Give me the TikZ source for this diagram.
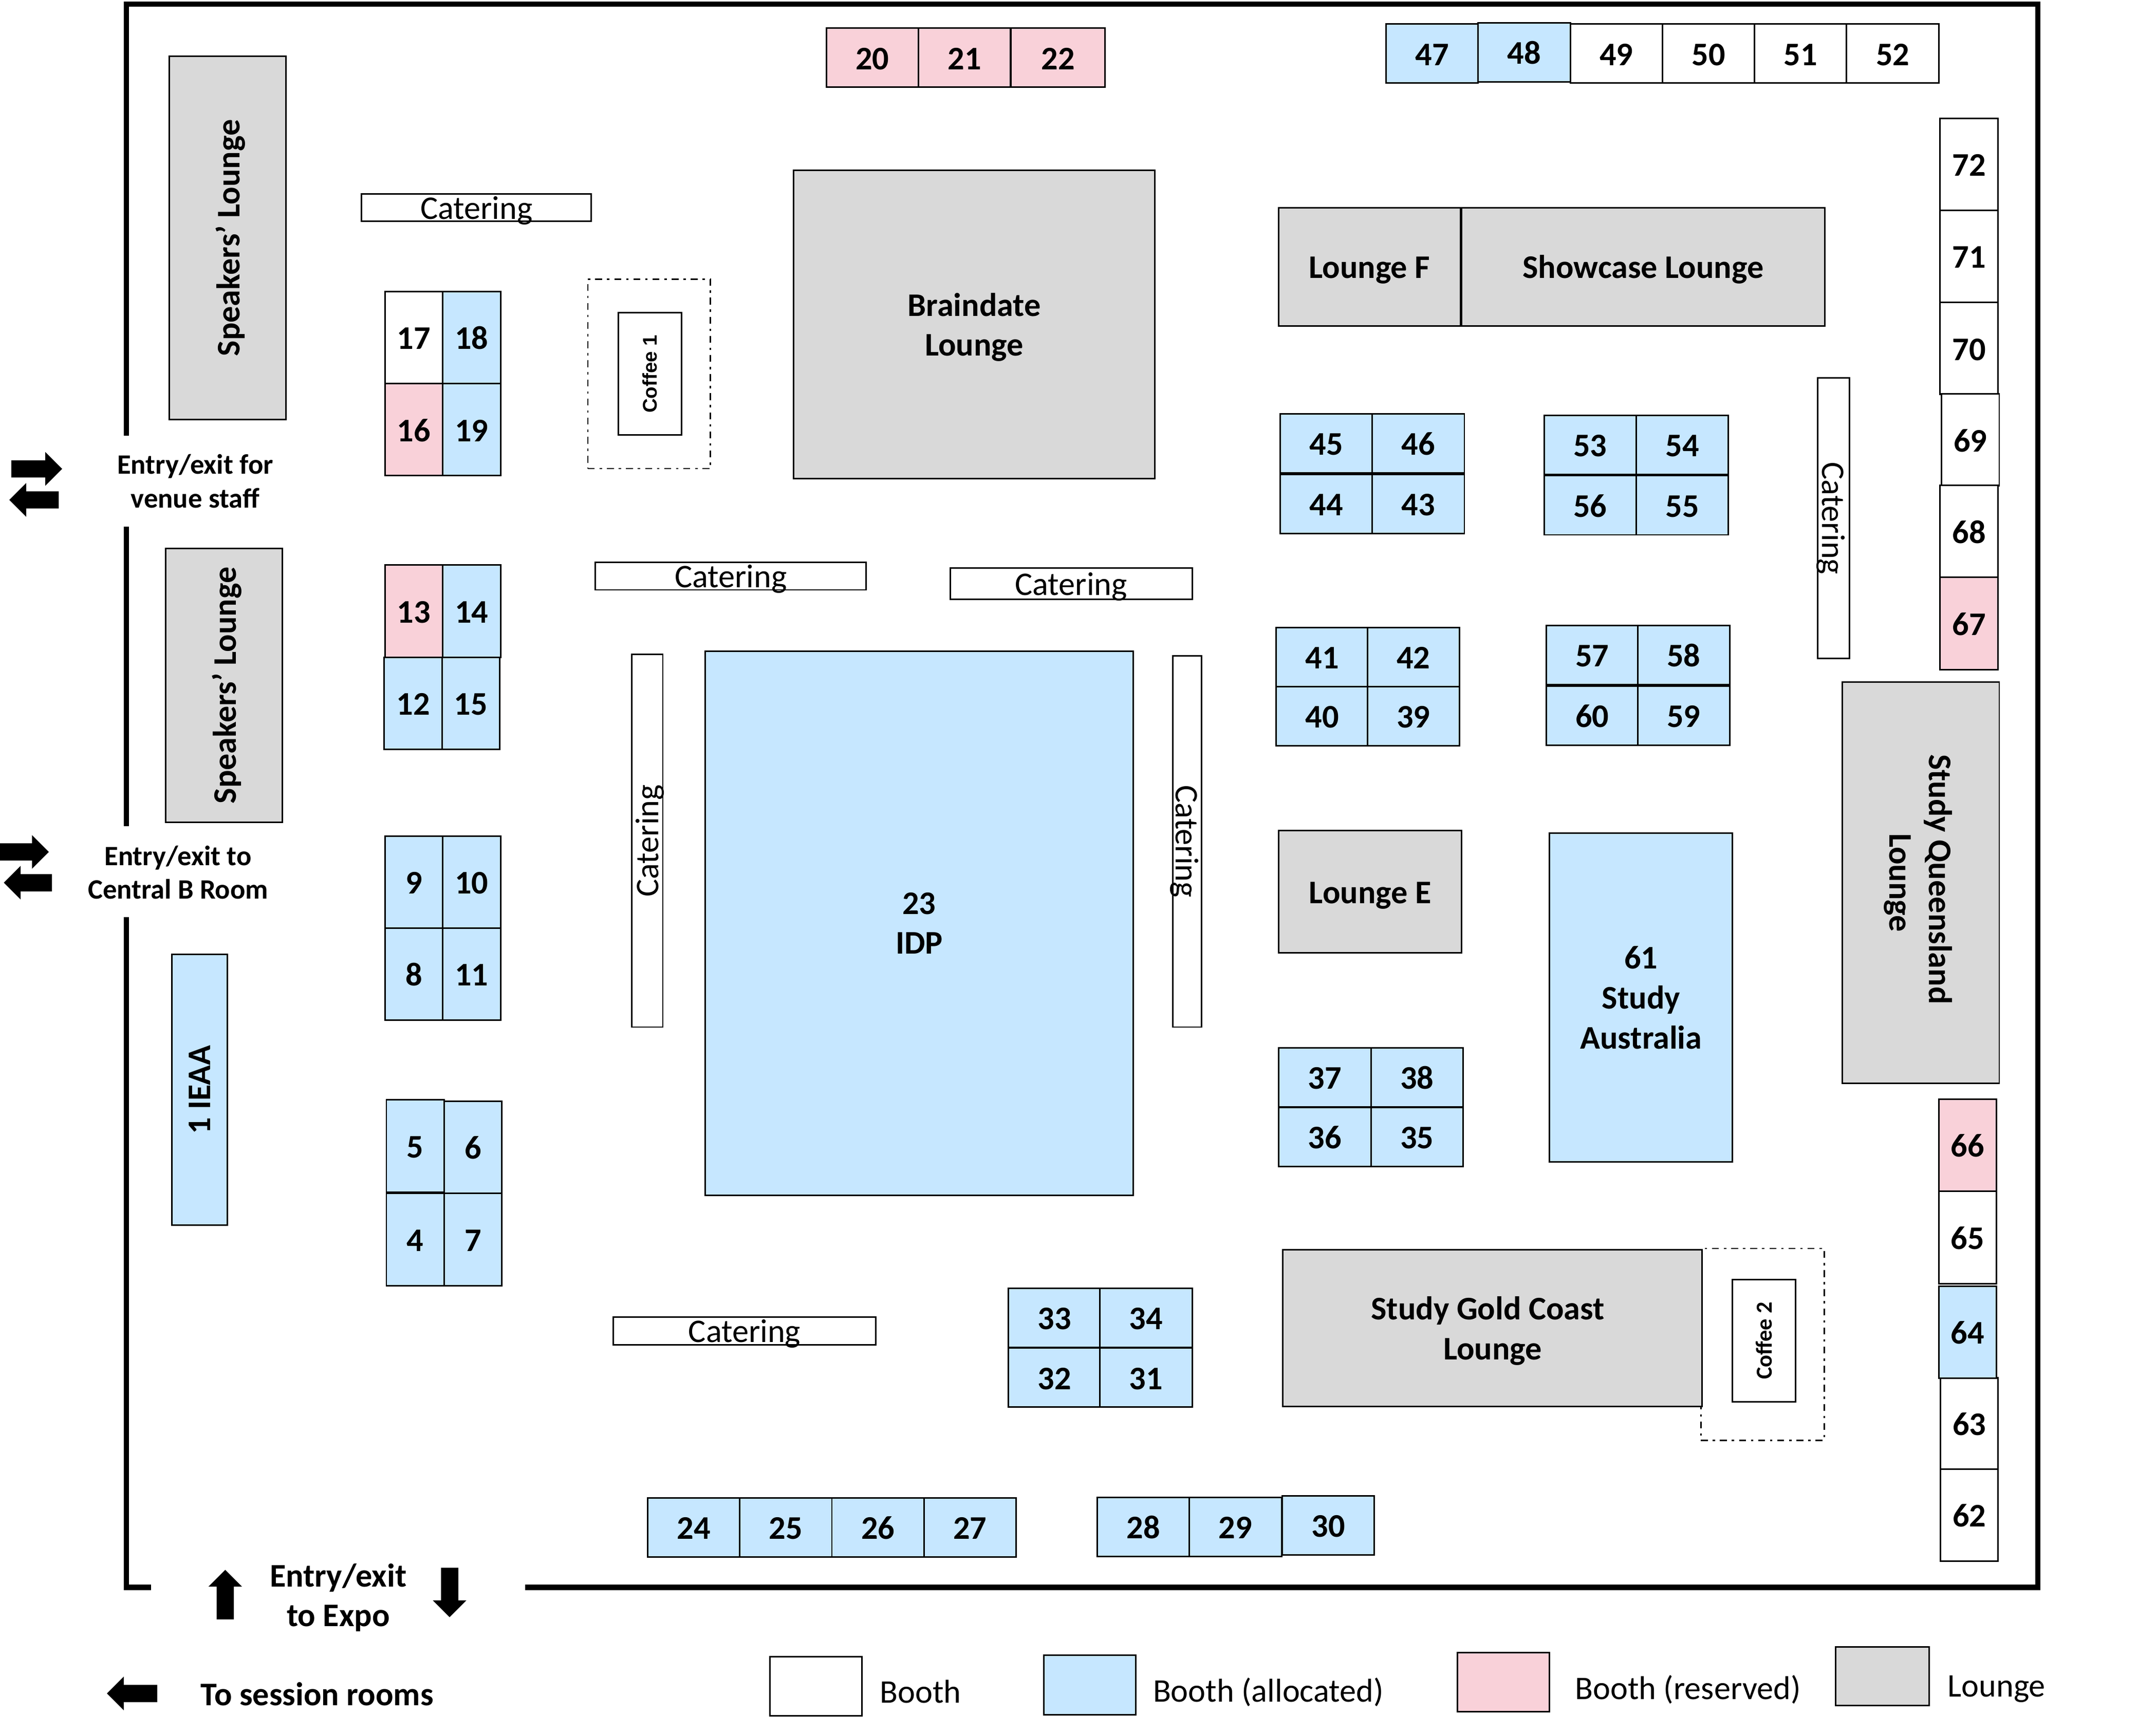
\documentclass[tikz,border=0pt]{standalone}
\usepackage{fontspec}
\setmainfont{Carlito}
\newfontfamily\coffeefont{Liberation Sans}
\usetikzlibrary{shapes.arrows}
\definecolor{boothblue}{HTML}{C6E7FF}
\definecolor{boothpink}{HTML}{F9D1D9}
\definecolor{loungegrey}{HTML}{D9D9D9}
\begin{document}
\begin{tikzpicture}[x=1pt, y=-1pt, line width=1.1pt,
    wall/.style={line width=3.9pt},
    boxed/.style={draw, fill=white, inner sep=0pt, align=center, text depth=0pt,
        font=\fontsize{24}{29}\selectfont\bfseries},
    oneline/.style={text height=17pt},
    hbooth/.style={boxed, oneline, minimum width=67pt, minimum height=43pt},
    vbooth/.style={boxed, oneline, minimum width=42pt, minimum height=67pt},
    taken/.style={fill=boothblue},
    held/.style={fill=boothpink},
    lounge/.style={boxed, fill=loungegrey},
    cater/.style={draw, fill=white, inner sep=0pt, text depth=0pt,
        font=\fontsize{24}{29}\selectfont},
    coffeezone/.style={draw, inner sep=0pt, dash pattern=on 5pt off 3.6pt on 1.7pt off 3.6pt},
    coffeebox/.style={draw, fill=white, inner sep=0pt, rotate=90, minimum width=89pt, minimum height=46pt},
    bigarrow/.style={single arrow, fill=black, inner sep=5.7pt, anchor=tip, minimum width=23.4pt,
        single arrow head extend=6pt, single arrow tip angle=90, single arrow head indent=0pt},
    sign/.style={inner sep=0pt, align=center, font=\fontsize{20.4}{24.5}\selectfont\bfseries},
    bigsign/.style={inner sep=0pt, align=center, font=\fontsize{24}{29}\selectfont\bfseries},
    keytext/.style={inner sep=0pt, anchor=west, text height=16pt, text depth=5pt,
        font=\fontsize{24}{29}\selectfont}]
    \useasboundingbox (0,0) rectangle (1568,1260.4);
    % walls
    \draw[wall] (92,316.7) -- (92,3) -- (1482,3) -- (1482,1154.5) -- (382,1154.5);
    \draw[wall] (92,383) -- (92,601);
    \draw[wall] (92,667) -- (92,1154.5) -- (110,1154.5);
    % doors
    \node[bigarrow, minimum height=37pt] (staffin) at (46,341) {};
    \node[bigarrow, minimum height=36pt, rotate=180] (staffout) at (6,363.6) {};
    \node[sign] (stafftext) at (142,350) {Entry/exit for\\venue staff};
    \node[bigarrow, minimum height=36pt] (roomin) at (36.3,619.6) {};
    \node[bigarrow, minimum height=35pt, rotate=180] (roomout) at (2,642) {};
    \node[sign] (roomtext) at (129.5,634.5) {Entry/exit to\\Central B Room};
    \node[bigarrow, minimum height=36pt, rotate=90] (expoin) at (163.8,1141) {};
    \node[bigarrow, minimum height=36pt, rotate=-90] (expoout) at (327,1177) {};
    \node[bigsign] (expotext) at (246,1162) {Entry/exit\\to Expo};
    \node[bigarrow, minimum height=36.5pt, rotate=180] (sessionarrow) at (77,1231.7) {};
    \node[bigsign, anchor=west] (sessiontext) at (145.5,1232) {To session rooms};
    % lounges
    \node[lounge, rotate=90, minimum width=264pt, minimum height=85pt] (speakers1) at (165.5,173) {Speakers’ Lounge};
    \node[lounge, rotate=90, minimum width=199pt, minimum height=85pt] (speakers2) at (163,498.5) {Speakers’ Lounge};
    \node[lounge, minimum width=263pt, minimum height=224pt] (braindate) at (708.5,236) {Braindate\\Lounge};
    \node[lounge, oneline, minimum width=132pt, minimum height=86pt] (loungef) at (996,194) {Lounge F};
    \node[lounge, oneline, minimum width=264pt, minimum height=86pt] (showcase) at (1195,194) {Showcase Lounge};
    \node[lounge, oneline, minimum width=133pt, minimum height=89pt] (loungee) at (996.5,648.5) {Lounge E};
    \node[lounge, rotate=-90, minimum width=292pt, minimum height=114pt] (queensland) at (1397,642) {Study Queensland\rule{5pt}{0pt}\\Lounge};
    \node[coffeezone, minimum width=89.6pt, minimum height=139.7pt] (zone2) at (1281.8,977.9) {};
    \node[lounge, minimum width=305pt, minimum height=114pt] (goldcoast) at (1085.5,966) {Study Gold Coast\rule{7pt}{0pt}\\Lounge};
    % coffee
    \node[coffeezone, minimum width=89.2pt, minimum height=137.8pt] (zone1) at (472.1,271.9) {};
    \node[coffeebox, font=\coffeefont\fontsize{14.4}{17}\selectfont\bfseries] (coffee1) at (472.7,272) {Coffee 1};
    \node[coffeebox, font=\fontsize{16.6}{20}\selectfont\bfseries] (coffee2) at (1283,975.2) {Coffee 2};
    % catering
    \node[cater, minimum width=167pt, minimum height=20pt] (cater1) at (346.5,151) {Catering};
    \node[cater, minimum width=197pt, minimum height=20pt] (cater2) at (531.5,419) {Catering};
    \node[cater, minimum width=176pt, minimum height=23pt] (cater3) at (779,424.5) {Catering};
    \node[cater, minimum width=191pt, minimum height=20pt] (cater4) at (541.5,968) {Catering};
    \node[cater, rotate=90, minimum width=271pt, minimum height=22.5pt] (cater5) at (470.8,611.5) {Catering};
    \node[cater, rotate=-90, minimum width=270pt, minimum height=21pt] (cater6) at (863.5,612) {Catering};
    \node[cater, rotate=-90, minimum width=204pt, minimum height=23pt] (cater7) at (1333.5,377) {Catering};
    % big booths
    \node[boxed, taken, rotate=90, minimum width=197pt, minimum height=40.5pt] (b1) at (145.2,792.5) {1 IEAA};
    \node[boxed, taken, minimum width=311pt, minimum height=395.5pt] (b23) at (668.5,671.5) {23\\IDP};
    \node[boxed, taken, minimum width=133pt, minimum height=239pt] (b61) at (1193.5,725.5) {61\\Study\\Australia};
    % top row
    \node[hbooth, held] (b20) at (634.5,42) {20};
    \node[hbooth, held] (b21) at (701.5,42) {21};
    \node[hbooth, held, minimum width=68.5pt] (b22) at (769.5,42) {22};
    \node[hbooth, taken] (b47) at (1041.5,39) {47};
    \node[hbooth, taken] (b48) at (1108.5,38) {48};
    \node[hbooth] (b49) at (1175.5,39) {49};
    \node[hbooth] (b50) at (1242.5,39) {50};
    \node[hbooth] (b51) at (1309.5,39) {51};
    \node[hbooth] (b52) at (1376.5,39) {52};
    % right column
    \node[vbooth] (b72) at (1432,119.5) {72};
    \node[vbooth] (b71) at (1432,186.5) {71};
    \node[vbooth] (b70) at (1432,253.5) {70};
    \node[vbooth] (b69) at (1433,320) {69};
    \node[vbooth] (b68) at (1432,386.5) {68};
    \node[vbooth, held] (b67) at (1432,453.5) {67};
    \node[vbooth, held] (b66) at (1431,833) {66};
    \node[vbooth] (b65) at (1431,900) {65};
    \node[vbooth] (b63) at (1432.2,1035.5) {63};
    \node[vbooth] (b62) at (1432.2,1102) {62};
    \node[vbooth, taken] (b64) at (1431,969) {64};
    % left blocks
    \node[vbooth] (b17) at (301,245.5) {17};
    \node[vbooth, taken] (b18) at (343,245.5) {18};
    \node[vbooth, held] (b16) at (301,312.5) {16};
    \node[vbooth, taken] (b19) at (343,312.5) {19};
    \node[vbooth, held] (b13) at (301,444.5) {13};
    \node[vbooth, taken] (b14) at (343,444.5) {14};
    \node[vbooth, taken] (b12) at (300.5,511.5) {12};
    \node[vbooth, taken] (b15) at (342.5,511.5) {15};
    \node[vbooth, taken] (b9) at (301,641.5) {9};
    \node[vbooth, taken] (b10) at (343,641.5) {10};
    \node[vbooth, taken] (b8) at (301,708.5) {8};
    \node[vbooth, taken] (b11) at (343,708.5) {11};
    \node[vbooth, taken] (b5) at (302,833.5) {5};
    \node[vbooth, taken] (b6) at (344,834.5) {6};
    \node[vbooth, taken] (b4) at (302,901.5) {4};
    \node[vbooth, taken] (b7) at (344,901.5) {7};
    % middle blocks
    \node[hbooth, taken] (b45) at (964.5,322.5) {45};
    \node[hbooth, taken] (b46) at (1031.5,322.5) {46};
    \node[hbooth, taken] (b44) at (964.5,366.5) {44};
    \node[hbooth, taken] (b43) at (1031.5,366.5) {43};
    \node[hbooth, taken] (b53) at (1156.5,323.5) {53};
    \node[hbooth, taken] (b54) at (1223.5,323.5) {54};
    \node[hbooth, taken] (b56) at (1156.5,367.5) {56};
    \node[hbooth, taken] (b55) at (1223.5,367.5) {55};
    \node[hbooth, taken] (b41) at (961.5,478) {41};
    \node[hbooth, taken] (b42) at (1028,478) {42};
    \node[hbooth, taken] (b40) at (961.5,521) {40};
    \node[hbooth, taken] (b39) at (1028,521) {39};
    \node[hbooth, taken] (b57) at (1158,476.5) {57};
    \node[hbooth, taken] (b58) at (1224.5,476.5) {58};
    \node[hbooth, taken] (b60) at (1158,520.5) {60};
    \node[hbooth, taken] (b59) at (1224.5,520.5) {59};
    \node[hbooth, taken] (b37) at (963.5,783.5) {37};
    \node[hbooth, taken] (b38) at (1030.5,783.5) {38};
    \node[hbooth, taken] (b36) at (963.5,827) {36};
    \node[hbooth, taken] (b35) at (1030.5,827) {35};
    \node[hbooth, taken] (b33) at (767,958.5) {33};
    \node[hbooth, taken] (b34) at (833.5,958.5) {34};
    \node[hbooth, taken] (b32) at (767,1002) {32};
    \node[hbooth, taken] (b31) at (833.5,1002) {31};
    % bottom row
    \node[hbooth, taken] (b24) at (504.5,1111) {24};
    \node[hbooth, taken] (b25) at (571.5,1111) {25};
    \node[hbooth, taken] (b26) at (638.5,1111) {26};
    \node[hbooth, taken] (b27) at (705.5,1111) {27};
    \node[hbooth, taken] (b28) at (831.5,1110.5) {28};
    \node[hbooth, taken] (b29) at (898.5,1110.5) {29};
    \node[hbooth, taken] (b30) at (966,1109.5) {30};
    % key
    \node[hbooth] (keybooth) at (593.5,1226.5) {};
    \node[keytext] (keyboothtext) at (639.5,1233) {Booth};
    \node[hbooth, taken] (keytaken) at (792.5,1225.5) {};
    \node[keytext] (keytakentext) at (838,1232.5) {Booth (allocated)};
    \node[hbooth, held] (keyheld) at (1093.5,1223.5) {};
    \node[keytext] (keyheldtext) at (1145,1230.5) {Booth (reserved)};
    \node[boxed, fill=loungegrey, minimum width=68pt, minimum height=42.6pt] (keylounge) at (1369,1219.3) {};
    \node[keytext] (keyloungetext) at (1416,1228.5) {Lounge};
\end{tikzpicture}
\end{document}
